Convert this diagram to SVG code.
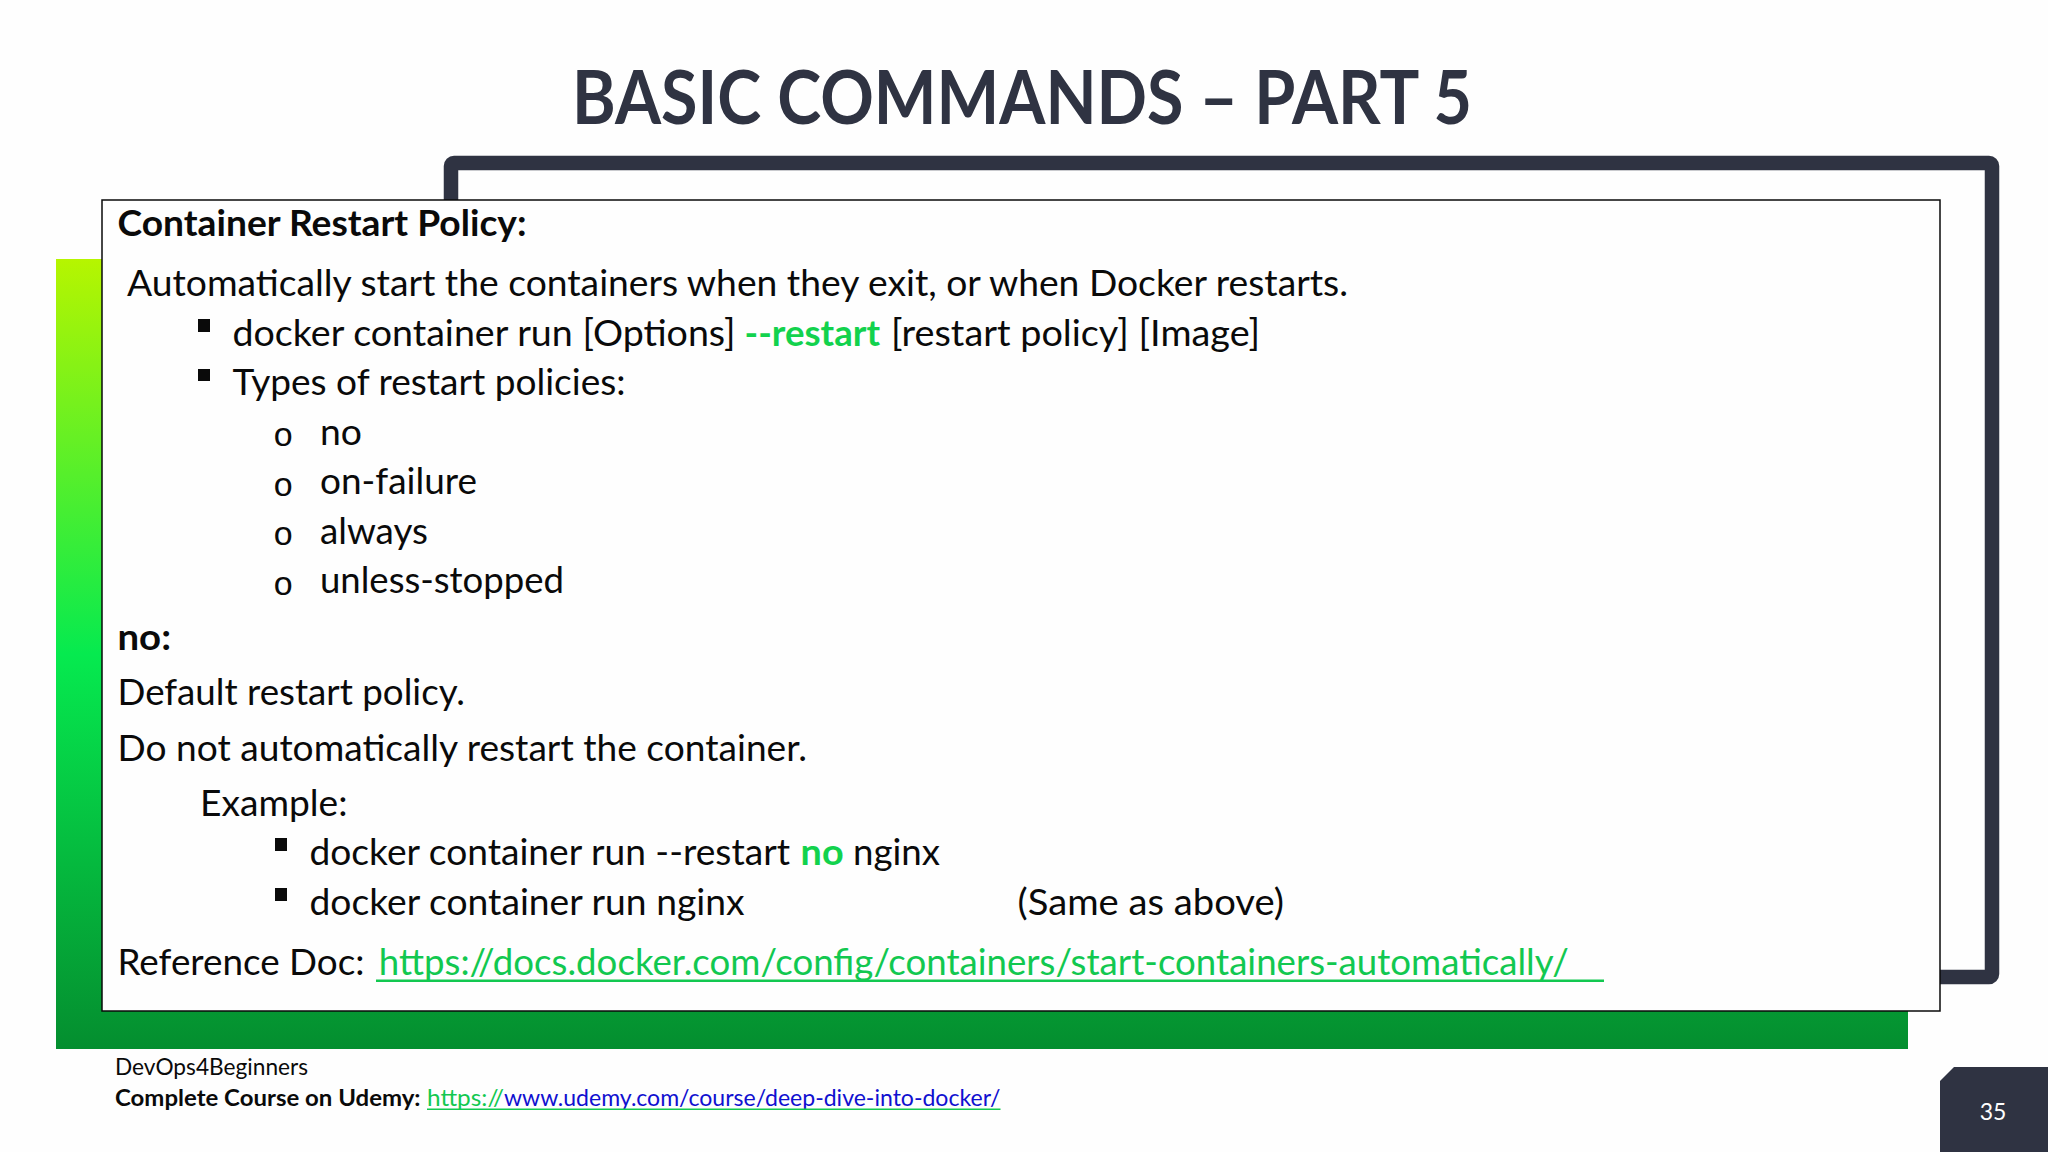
<svg xmlns="http://www.w3.org/2000/svg" width="2048" height="1152" viewBox="0 0 2048 1152">
<style>
text{font-family:Lato,"Liberation Sans",sans-serif;fill:#0a0a0a}
.b{font-size:37px;}
.h{font-size:37px;font-weight:700}
.g{font-size:37px;font-weight:700;fill:#12d24d}
.m{font-family:"Liberation Mono",monospace;font-size:34px}
.f{font-size:23px}
.fb{font-size:23px;font-weight:700}
</style>
<defs>
<linearGradient id="grad" x1="0" y1="0" x2="0" y2="1">
<stop offset="0" stop-color="#b6f500"/>
<stop offset="0.5" stop-color="#06ea4f"/>
<stop offset="1" stop-color="#048e2f"/>
</linearGradient>
</defs>
<rect width="2048" height="1152" fill="#fefefe"/>
<text x="572" y="124" font-size="74" font-weight="700" style="fill:#2f3342" textLength="900" lengthAdjust="spacingAndGlyphs">BASIC COMMANDS – PART 5</text>
<rect x="451" y="163" width="1541" height="814" rx="3" fill="none" stroke="#2f3342" stroke-width="14.5"/>
<rect x="56" y="259" width="1852" height="790" fill="url(#grad)"/>
<rect x="102" y="200" width="1838" height="811" fill="#fefefe" stroke="#0a0a0a" stroke-width="1.5"/>

<text class="h" x="117.5" y="236" textLength="409" lengthAdjust="spacingAndGlyphs">Container Restart Policy:</text>
<text class="b" x="127" y="296" textLength="1221" lengthAdjust="spacingAndGlyphs">Automatically start the containers when they exit, or when Docker restarts.</text>
<rect x="198" y="319" width="12" height="13" fill="#0a0a0a"/>
<text class="b" x="232.5" y="346" textLength="503" lengthAdjust="spacingAndGlyphs">docker container run [Options]</text>
<text class="g" x="744.5" y="346" textLength="135.5" lengthAdjust="spacingAndGlyphs">--restart</text>
<text class="b" x="891" y="346" textLength="369" lengthAdjust="spacingAndGlyphs">[restart policy] [Image]</text>
<rect x="198" y="369" width="12" height="12" fill="#0a0a0a"/>
<text class="b" x="232.5" y="395" textLength="393" lengthAdjust="spacingAndGlyphs">Types of restart policies:</text>
<text class="m" x="273" y="446">o</text>
<text class="b" x="320" y="445" textLength="42" lengthAdjust="spacingAndGlyphs">no</text>
<text class="m" x="273" y="496">o</text>
<text class="b" x="320" y="494" textLength="157" lengthAdjust="spacingAndGlyphs">on-failure</text>
<text class="m" x="273" y="545">o</text>
<text class="b" x="320" y="544" textLength="108" lengthAdjust="spacingAndGlyphs">always</text>
<text class="m" x="273" y="595">o</text>
<text class="b" x="320" y="593" textLength="244" lengthAdjust="spacingAndGlyphs">unless-stopped</text>
<text class="h" x="117.5" y="650" textLength="53.5" lengthAdjust="spacingAndGlyphs">no:</text>
<text class="b" x="117.5" y="705" textLength="347.5" lengthAdjust="spacingAndGlyphs">Default restart policy.</text>
<text class="b" x="117.5" y="761" textLength="689.5" lengthAdjust="spacingAndGlyphs">Do not automatically restart the container.</text>
<text class="b" x="200" y="816" textLength="147.5" lengthAdjust="spacingAndGlyphs">Example:</text>
<rect x="275" y="838" width="12" height="13" fill="#0a0a0a"/>
<text class="b" x="309.5" y="865" textLength="480.5" lengthAdjust="spacingAndGlyphs">docker container run --restart</text>
<text class="g" x="800.6" y="865" textLength="43" lengthAdjust="spacingAndGlyphs">no</text>
<text class="b" x="853" y="865" textLength="87" lengthAdjust="spacingAndGlyphs">nginx</text>
<rect x="275" y="888" width="12" height="13" fill="#0a0a0a"/>
<text class="b" x="309.5" y="915" textLength="435" lengthAdjust="spacingAndGlyphs">docker container run nginx</text>
<text class="b" x="1017.5" y="915" textLength="266.5" lengthAdjust="spacingAndGlyphs">(Same as above)</text>
<text class="b" x="117.5" y="975" textLength="247" lengthAdjust="spacingAndGlyphs">Reference Doc:</text>
<text class="b" style="fill:#12c850" x="378.8" y="975" textLength="1190" lengthAdjust="spacingAndGlyphs">https://docs.docker.com/config/containers/start-containers-automatically/</text>
<rect x="376" y="979.5" width="1228" height="2.5" fill="#12c850"/>

<text class="f" x="115" y="1075" textLength="193" lengthAdjust="spacingAndGlyphs">DevOps4Beginners</text>
<text class="fb" x="115" y="1106" textLength="305.5" lengthAdjust="spacingAndGlyphs">Complete Course on Udemy:</text>
<text class="f" style="fill:#12c850" x="427" y="1106" textLength="77" lengthAdjust="spacingAndGlyphs">https://</text>
<text class="f" style="fill:#1010d0" x="504" y="1106" textLength="496.5" lengthAdjust="spacingAndGlyphs">www.udemy.com/course/deep-dive-into-docker/</text>
<rect x="427" y="1108.5" width="573.5" height="1.5" fill="#12c850"/>

<path d="M1940 1081L1954 1067H2048V1152H1940Z" fill="#2f3342"/>
<text x="1993" y="1120" font-size="23" text-anchor="middle" style="fill:#fefefe">35</text>
</svg>
